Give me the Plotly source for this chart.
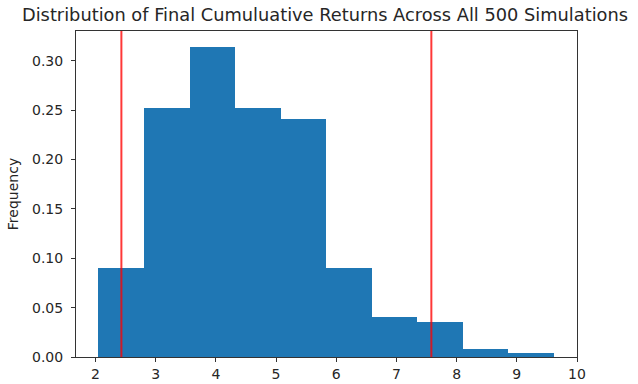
import numpy as np
import plotly.graph_objects as go

# Data
bin_start = 2.048
bin_width = 0.757
densities = [0.090, 0.252, 0.314, 0.252, 0.241, 0.090, 0.040, 0.035, 0.008, 0.004]
ci_lower = 2.43
ci_upper = 7.58
title_text = "Distribution of Final Cumuluative Returns Across All 500 Simulations"
x_ticks = [2, 3, 4, 5, 6, 7, 8, 9, 10]
y_ticks = [0.00, 0.05, 0.10, 0.15, 0.20, 0.25, 0.30]

n = len(densities)
centers = [bin_start + bin_width * (i + 0.5) for i in range(n)]

fig = go.Figure()
fig.add_trace(go.Bar(
    x=centers, y=densities, width=[bin_width] * n,
    marker=dict(color="#1f77b4", line=dict(width=0)),
    hoverinfo="skip",
))

for v in (ci_lower, ci_upper):
    fig.add_shape(type="line", xref="x", yref="paper", x0=v, x1=v, y0=0, y1=1,
                  line=dict(color="rgba(255,0,0,0.78)", width=2))

font = "DejaVu Sans, sans-serif"
fig.update_layout(
    width=638, height=384,
    margin=dict(l=76, r=61, t=31, b=27),
    paper_bgcolor="white", plot_bgcolor="white",
    showlegend=False, bargap=0,
    font=dict(family=font, size=14, color="#262626"),
    title=dict(text=title_text, x=325 / 638, xanchor="center", y=1 - 15 / 384, yanchor="middle",
               font=dict(family=font, size=17.8, color="#262626"), automargin=False),
    xaxis=dict(range=[1.676, 10.0], tickvals=x_ticks, ticktext=[str(t) for t in x_ticks],
               showgrid=False, zeroline=False, showline=True, linecolor="#333333", linewidth=1,
               mirror=True, ticks="outside", ticklen=4, tickcolor="#333333",
               tickfont=dict(size=14), automargin=False),
    yaxis=dict(range=[0, 0.33], tickvals=y_ticks, ticktext=[f"{t:.2f}" for t in y_ticks],
               showgrid=False, zeroline=False, showline=True, linecolor="#333333", linewidth=1,
               mirror=True, ticks="outside", ticklen=4, tickcolor="#333333",
               tickfont=dict(size=14), automargin=False, ticklabelstandoff=5,
               title=dict(text="Frequency", standoff=10, font=dict(size=14))),
)

fig.write_html("out.html")
